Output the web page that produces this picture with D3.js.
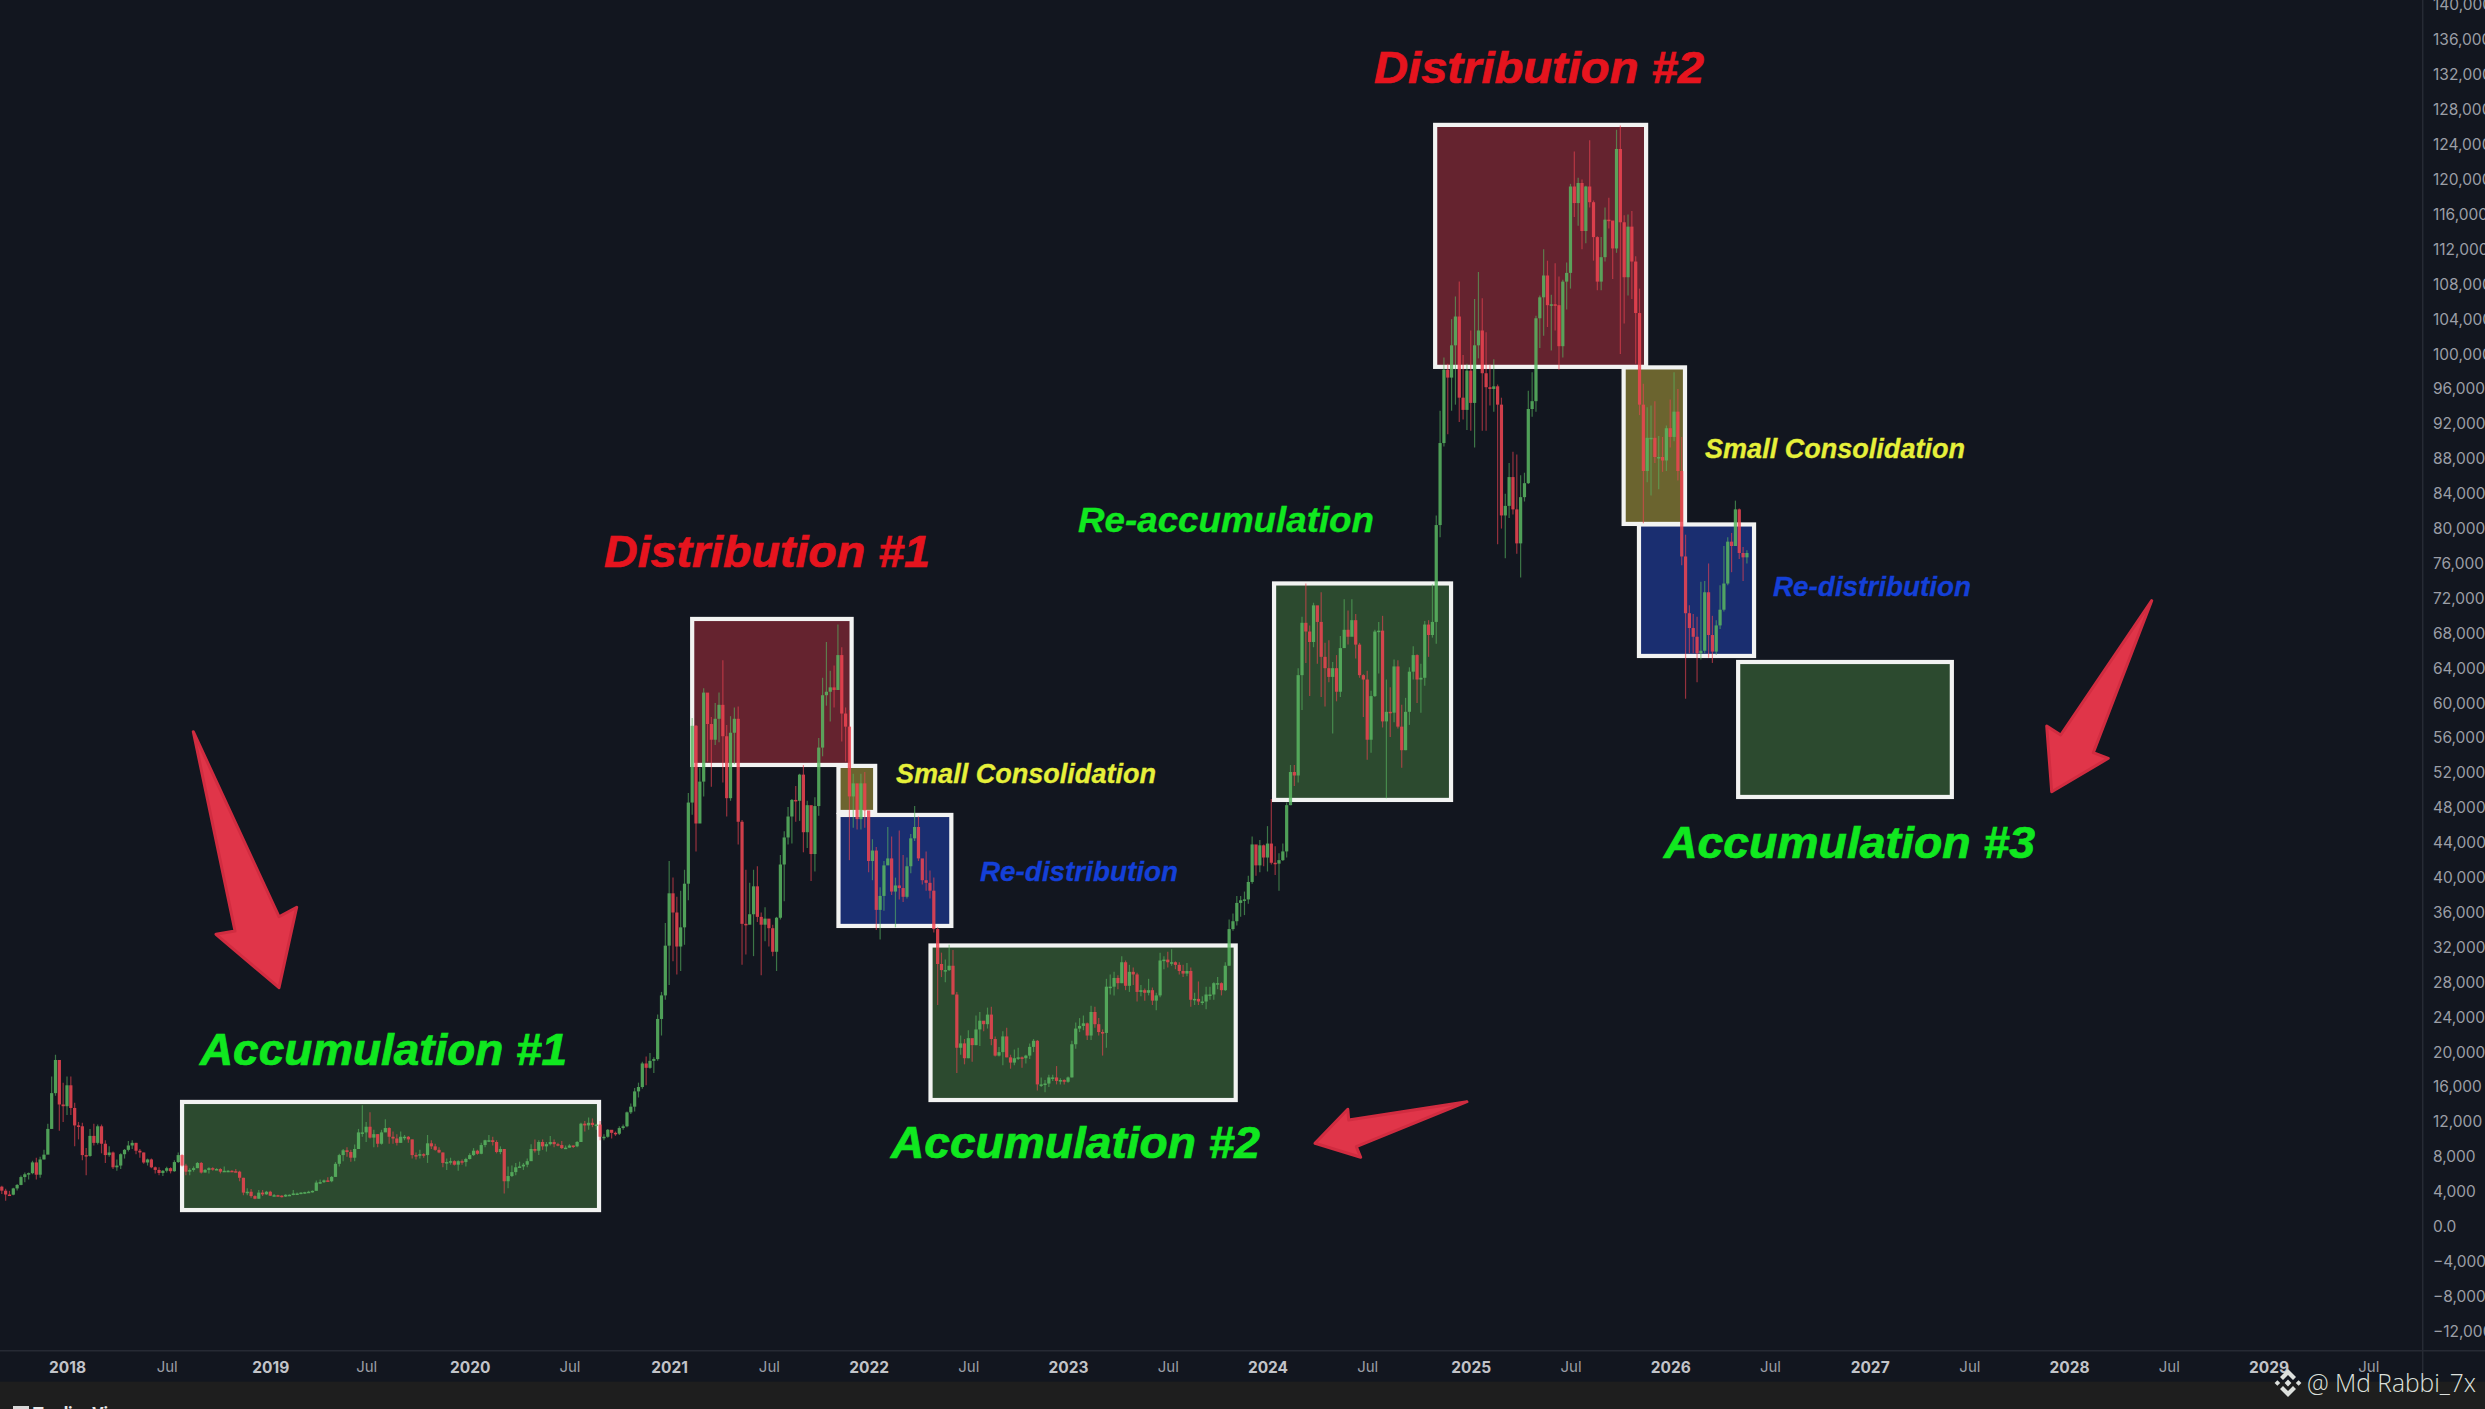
<!DOCTYPE html>
<html><head><meta charset="utf-8">
<style>html,body{margin:0;padding:0;background:#12161f;overflow:hidden}svg{display:block}</style>
<script src="https://cdnjs.cloudflare.com/ajax/libs/d3/7.8.5/d3.min.js"></script>
</head><body><svg id="c" width="2485" height="1409"></svg>
<script>
// Weekly BTC candles, in thousands of USD, first week starting Monday 2017-09-04
const firstWeek = "2017-09-04";
const firstOpen = 4.58;
const closes = [
// 2017
4.12,3.68,3.66,4.38,4.78,5.68,6.0,6.13,7.36,5.95,7.7,8.25,11.2,15.3,19.1,14.0,13.8,
// 2018
16.2,13.6,11.6,11.5,8.2,8.1,10.4,9.6,11.5,9.5,8.2,8.5,6.8,7.0,8.3,8.8,9.3,9.6,8.7,8.5,7.35,7.7,6.8,6.5,6.15,6.4,6.7,6.35,7.4,8.2,7.0,6.3,6.5,6.7,7.3,6.2,6.5,6.7,6.6,6.6,6.3,6.4,6.4,6.35,6.3,5.6,3.9,4.0,3.5,3.2,3.9,3.7,4.0,
// 2019
3.55,3.6,3.55,3.45,3.65,3.65,3.8,3.8,3.9,3.95,4.0,4.1,5.05,5.1,5.3,5.2,5.7,7.2,8.2,8.75,8.55,7.9,8.9,10.8,10.8,11.45,10.2,10.6,9.5,10.8,11.3,10.3,10.1,9.6,10.3,10.3,10.0,8.2,8.15,8.3,8.2,9.55,9.2,8.8,8.5,7.3,7.4,7.5,7.1,7.5,7.4,7.75,
// 2020
8.2,8.7,8.35,9.35,9.9,9.9,9.7,8.55,8.9,5.2,5.8,6.25,6.8,6.9,7.1,7.5,8.9,8.7,9.7,9.2,9.45,9.7,9.45,9.35,9.0,9.05,9.3,9.2,9.7,11.8,11.6,11.9,11.65,11.7,10.3,10.3,11.1,10.75,10.65,11.3,11.5,13.1,13.75,15.5,16.0,18.7,18.2,19.0,19.2,23.8,26.5,32.2,
// 2021
38.2,36.0,32.1,34.3,39.3,48.6,57.4,46.2,51.0,61.2,57.6,55.8,58.2,59.8,56.2,49.1,56.6,58.2,46.4,34.7,34.6,35.8,39.0,35.5,34.6,35.3,34.2,31.5,35.4,41.5,44.6,47.0,48.9,48.8,51.8,45.2,48.3,42.7,48.2,54.9,60.9,61.3,61.8,61.5,65.5,58.8,57.3,49.3,50.8,46.7,50.8,47.7,
// 2022
41.9,43.1,36.3,37.9,41.4,42.2,38.4,39.1,38.8,37.8,41.3,44.5,45.8,42.2,39.7,39.4,38.5,34.1,30.1,29.4,29.4,29.9,26.6,20.5,21.0,19.3,21.6,20.8,22.6,23.6,23.2,24.3,21.5,19.6,20.0,21.8,19.4,18.8,19.3,19.4,19.3,19.6,20.6,21.3,16.3,16.3,16.4,17.1,17.1,16.7,16.8,16.6,
// 2023
17.1,20.9,22.7,23.0,23.3,21.9,24.6,23.2,22.3,22.2,27.5,27.5,28.5,27.9,30.3,27.6,29.2,28.9,26.9,27.1,26.8,27.1,25.9,26.5,30.5,30.6,30.3,30.3,30.0,29.3,29.0,29.3,26.0,26.1,25.8,25.8,26.6,26.6,27.9,27.9,27.1,29.9,34.1,35.0,37.1,37.4,37.5,39.5,43.8,41.4,43.7,42.3,
// 2024
43.9,41.7,41.6,42.0,43.0,48.3,52.1,51.7,63.2,69.2,68.2,67.0,71.2,69.3,65.3,64.0,63.0,64.0,61.3,66.3,68.4,67.6,69.5,66.7,63.2,62.7,55.8,60.8,68.2,68.3,57.9,59.0,58.9,64.2,57.3,54.6,59.0,63.6,65.5,62.7,62.9,69.0,67.8,69.3,80.4,89.8,98.2,97.3,101.0,104.3,95.0,93.6,98.1,
// 2025
94.4,101.0,102.7,97.8,96.2,96.0,96.3,94.2,81.5,82.6,85.9,82.2,78.3,83.6,85.2,93.7,94.6,104.1,106.5,109.0,105.6,105.7,105.6,100.9,108.3,109.3,119.2,117.3,119.6,114.1,119.2,117.4,113.4,108.3,111.1,115.4,115.3,112.1,123.5,115.1,108.8,114.6,110.6,104.7,94.2,86.6,90.4,90.4,88.2,88.2,87.8,91.5,
// 2026
90.5,93.4,86.6,76.8,70.3,68.6,67.6,65.7,66.0,72.7,67.8,65.9,68.9,70.7,73.7,78.5,78.0,82.2,77.2,76.7,77.2
];
const highs = [
// 2017
4.7,4.35,4.1,4.45,4.9,5.85,6.2,6.2,7.55,7.9,8.0,8.8,11.8,17.2,19.7,19.0,16.5,
// 2018
17.2,17.2,14.2,12.0,11.9,9.0,11.2,11.8,11.7,11.7,9.9,9.2,8.6,7.7,8.4,8.9,9.8,9.9,9.6,8.9,8.5,7.8,7.8,6.9,6.8,6.5,6.85,6.8,7.6,8.5,8.3,7.2,6.7,6.9,7.4,7.4,6.6,6.8,6.8,6.7,6.7,6.9,6.5,6.45,6.6,6.4,5.6,4.4,4.3,3.6,4.2,4.2,4.1,
// 2019
4.1,3.75,3.65,3.6,3.7,3.7,4.2,3.9,3.95,4.0,4.1,4.15,5.3,5.4,5.4,5.65,5.8,7.4,8.35,8.9,9.1,8.8,9.4,11.2,13.9,12.0,13.1,11.1,10.6,11.1,12.3,11.4,10.9,10.6,10.9,10.5,10.4,10.0,8.5,8.8,8.4,10.5,9.9,9.5,9.1,8.5,7.8,7.9,7.6,7.6,7.7,7.9,
// 2020
8.4,9.0,8.8,9.6,9.95,10.5,10.3,9.9,9.2,8.2,6.9,7.0,7.3,7.45,7.3,7.8,9.45,10.0,9.9,10.0,9.7,10.4,10.0,9.6,9.8,9.3,9.45,9.3,9.8,11.9,12.1,12.5,12.4,11.8,12.1,10.6,11.2,11.0,10.9,11.5,11.7,13.2,14.1,15.9,16.5,18.9,19.5,19.9,19.4,24.3,26.9,34.8,
// 2021
41.9,40.0,37.8,38.5,40.9,49.7,58.3,57.5,52.6,61.7,61.0,58.4,60.0,61.2,64.9,57.5,58.5,59.5,59.6,46.6,40.9,39.4,40.9,41.3,36.0,36.6,35.1,34.6,35.5,42.6,45.3,48.1,49.0,50.5,51.9,52.9,48.8,48.0,49.2,56.0,62.9,67.0,63.7,64.3,69.0,66.4,59.5,59.2,51.9,50.0,51.9,52.1,
// 2022
47.5,44.4,43.5,38.9,41.9,45.8,44.7,40.0,45.4,42.6,42.3,45.0,48.2,47.0,41.5,43.0,40.8,40.0,34.3,31.4,30.6,32.3,31.7,26.9,21.9,21.5,22.5,21.0,24.2,24.6,23.5,25.1,25.2,21.8,20.6,22.4,22.8,19.7,20.3,20.5,19.5,19.7,21.0,21.5,21.4,17.1,16.8,17.4,17.4,18.4,17.0,16.9,
// 2023
17.2,21.3,23.4,23.9,24.2,23.4,25.3,25.2,23.9,22.6,28.4,28.9,29.2,28.8,31.0,30.5,30.0,29.7,29.1,27.7,27.3,28.4,27.4,26.8,31.4,31.0,31.5,31.8,30.4,30.3,30.0,30.2,29.7,26.8,28.1,26.4,27.5,27.5,28.0,28.6,28.0,30.3,35.2,35.9,37.9,37.9,38.4,40.2,44.7,43.5,44.3,43.8,
// 2024
45.9,49.0,43.6,42.8,43.9,48.6,52.9,52.9,64.0,69.9,73.7,68.9,71.5,70.3,72.7,66.9,67.2,64.7,65.5,67.7,71.9,70.6,71.9,70.2,66.9,63.3,63.7,61.4,68.4,69.3,70.0,62.7,61.8,65.0,64.9,59.8,60.6,64.1,66.5,65.6,64.5,69.4,69.5,73.6,81.5,93.5,99.6,98.9,104.0,106.6,108.3,99.9,98.9,
// 2025
102.7,106.3,109.4,106.4,102.5,98.8,99.4,96.5,95.0,84.0,87.5,88.8,88.5,86.1,86.4,95.8,97.9,104.4,106.7,112.0,110.7,106.8,110.4,108.9,108.5,110.5,119.5,123.2,120.2,120.0,119.3,124.5,117.6,113.5,113.4,116.8,117.9,113.9,125.7,126.2,115.9,116.0,116.4,111.2,107.5,96.6,93.9,94.1,94.6,90.6,90.5,91.8,
// 2026
94.8,97.9,96.0,90.5,79.3,71.2,70.2,69.9,73.9,74.0,76.0,70.0,69.5,73.5,78.0,79.0,79.5,83.2,82.3,77.9,77.5
];
const lows = [
// 2017
3.75,2.97,3.55,3.6,4.15,4.75,5.1,5.4,6.0,5.4,5.6,7.7,8.5,11.2,15.0,11.0,12.0,
// 2018
12.8,12.8,9.2,10.0,7.6,5.9,8.0,9.3,9.4,8.4,7.3,8.0,6.6,6.4,6.6,7.8,8.6,8.9,8.3,7.9,7.2,7.0,6.7,6.1,5.9,5.8,6.2,6.1,6.3,7.3,6.9,5.9,5.9,6.3,6.7,6.1,6.2,6.1,6.4,6.5,6.1,6.3,6.35,6.3,6.3,5.2,3.6,3.6,3.3,3.15,3.2,3.5,3.65,
// 2019
3.5,3.5,3.5,3.35,3.4,3.55,3.6,3.65,3.7,3.75,3.9,3.9,4.1,4.9,5.0,5.15,5.1,5.7,6.9,7.5,8.0,7.45,7.5,8.9,10.3,9.7,10.1,9.1,9.1,9.4,10.9,9.5,9.5,9.3,9.6,9.9,9.6,7.8,7.7,7.8,7.9,7.3,8.9,8.7,8.4,6.8,6.5,7.1,7.0,6.4,7.1,6.9,
// 2020
7.7,8.1,8.25,8.3,9.1,9.7,9.3,8.4,8.3,3.8,4.4,5.7,5.9,6.8,6.5,6.8,7.6,8.5,8.2,8.8,8.6,9.3,9.1,9.2,8.9,8.9,9.05,9.0,9.1,9.9,10.9,11.1,11.4,11.1,9.9,9.9,10.2,10.1,10.4,10.5,11.1,11.4,12.9,13.2,14.8,15.8,16.2,18.1,17.6,19.0,21.9,26.0,
// 2021
27.7,30.4,28.9,29.3,32.3,37.4,47.2,43.0,46.3,49.3,53.3,50.4,55.2,55.5,50.9,47.0,48.8,53.0,43.8,30.0,31.2,34.8,31.0,34.9,28.8,32.7,32.1,31.0,29.3,35.2,37.3,43.8,43.9,46.4,46.5,42.9,43.4,39.6,40.7,47.1,53.9,59.7,57.9,59.5,62.3,55.6,53.3,42.0,45.7,45.5,45.5,45.7,
// 2022
40.6,39.7,34.0,32.9,36.2,41.7,38.0,34.3,37.5,37.2,37.6,40.5,44.2,41.9,39.2,38.5,37.6,33.7,25.4,28.6,28.0,29.3,26.6,17.6,19.7,18.6,19.3,18.9,20.8,20.7,22.4,22.7,20.8,19.5,19.5,18.5,19.4,18.1,18.5,19.1,18.2,18.7,19.2,20.0,15.6,16.0,15.4,16.0,16.7,16.3,16.3,16.3,
// 2023
16.5,17.1,20.4,22.3,22.5,21.4,21.4,22.8,21.9,19.6,20.5,26.6,26.5,27.2,27.9,27.1,26.9,27.7,25.8,26.4,25.9,26.5,25.4,24.8,26.3,29.5,29.7,29.9,29.5,28.9,28.6,28.7,25.2,25.4,25.4,25.4,24.9,26.0,26.0,27.2,26.5,27.0,29.9,33.9,34.5,35.5,35.7,37.0,39.3,40.2,40.6,41.3,
// 2024
40.7,41.5,40.3,38.5,41.9,42.3,48.3,50.5,50.9,59.2,64.6,60.8,66.4,64.5,60.7,59.6,62.4,56.5,60.2,60.7,66.6,66.7,68.5,65.1,62.9,58.4,53.5,54.3,60.7,63.4,57.2,49.1,56.1,57.8,57.1,52.6,54.6,57.5,62.7,60.0,58.9,62.0,65.3,67.5,66.8,79.0,89.4,90.8,93.5,94.2,92.2,92.5,91.3,
// 2025
91.2,89.3,99.5,91.2,91.2,94.1,93.4,78.2,80.0,76.6,81.2,81.6,77.1,74.4,83.1,85.1,92.8,93.4,100.7,102.1,103.1,100.4,102.7,98.2,99.6,105.1,107.5,115.7,114.7,112.0,112.7,116.8,110.7,107.3,107.3,110.6,114.4,108.6,111.6,100.0,103.5,106.7,106.3,98.9,93.0,80.6,85.3,83.8,87.5,84.5,86.5,86.6,
// 2026
89.3,90.0,85.5,75.8,60.5,65.7,65.7,62.4,65.0,65.7,65.2,64.6,65.5,68.5,70.5,73.5,75.0,78.0,76.5,74.0,76.0
];

// Price axis ticks (thousands of USD) and time axis ticks
const priceTicks = [140,136,132,128,124,120,116,112,108,104,100,96,92,88,84,80,76,72,68,64,60,56,52,48,44,40,36,32,28,24,20,16,12,8,4,0,-4,-8,-12];
const yearLabels = [2018,2019,2020,2021,2022,2023,2024,2025,2026,2027,2028,2029];

// Annotated zones: dates and price levels (thousands of USD)
const zoneKinds  = ["acc","dist","small","redist","acc","acc","dist","small","redist","acc"];
const zoneStarts = ["2018-07-30","2021-02-15","2021-11-09","2021-11-09","2022-04-26","2024-01-13","2024-11-02","2025-10-12","2025-11-09","2026-05-09"];
const zoneEnds   = ["2020-08-29","2021-12-03","2022-01-15","2022-06-03","2023-11-04","2024-12-01","2025-11-22","2026-02-01","2026-06-07","2027-06-03"];
const zoneTops   = [14.29,69.64,52.8,47.18,32.22,73.71,126.26,98.47,80.47,64.71];
const zoneBottoms= [1.9,52.91,47.52,34.46,14.51,48.9,98.53,80.53,65.4,49.24];

const labelTexts = ["Accumulation #1","Accumulation #2","Accumulation #3","Distribution #1","Distribution #2","Re-accumulation","Small Consolidation","Small Consolidation","Re-distribution","Re-distribution"];
const labelX     = [200,891,1664,604,1374,1078,896,1705,980,1773];
const labelY     = [1065,1158,858,567,83,532,783,458,881,596];
const labelSize  = [45,45,45,45,45,35,28.5,28.5,28.5,28.5];
const labelWidth = [367,369,371,326,330,296,260,260,198,198];
const labelColor = ["#10e81f","#10e81f","#10e81f","#e6141e","#e6141e","#10e81f","#e6f03a","#e6f03a","#1440d8","#1440d8"];

const arrowShapes = [
 [[193.3,731.7],[279,916.7],[296.7,907.3],[279,987.7],[216,934.3],[235,931]],
 [[1467,1101.7],[1348.7,1120],[1347.8,1109.3],[1315,1143.3],[1360.7,1157.3],[1356.3,1146.7]],
 [[2151.7,600.7],[2093.3,752.7],[2108.3,758.3],[2051.7,791.7],[2046.7,726],[2060.7,735]]
];

const zoneFill = {acc:"#2c4a2f", dist:"#65232f", small:"#6b642f", redist:"#1a2e70"};
const bg="#12161f";

const svg=d3.select("#c");
const parse=d3.utcParse("%Y-%m-%d");
const x=d3.scaleUtc().domain([parse("2018-01-01"),parse("2028-01-01")]).range([67,2068]);
const y=d3.scaleLinear().domain([-12,140]).range([1331.35,5]);
const weekPx=x(parse("2018-01-08"))-x(parse("2018-01-01"));
const start=parse(firstWeek);
if(closes.length!==highs.length||closes.length!==lows.length) throw new Error("length mismatch "+closes.length+" "+highs.length+" "+lows.length);
const candles=closes.map((c,i)=>({
  d:d3.utcDay.offset(start,7*i),
  o:i?closes[i-1]:firstOpen,c,h:highs[i],l:lows[i]
}));
const zones=zoneKinds.map((k,i)=>({k,s:parse(zoneStarts[i]),e:parse(zoneEnds[i]),t:zoneTops[i],b:zoneBottoms[i]}));

svg.append("rect").attr("width",2485).attr("height",1409).attr("fill",bg);

// zones with white outlines sit under the candles
svg.append("g").selectAll("rect").data(zones).join("rect")
 .attr("x",d=>x(d.s)).attr("width",d=>x(d.e)-x(d.s))
 .attr("y",d=>y(d.t)).attr("height",d=>y(d.b)-y(d.t))
 .attr("fill",d=>zoneFill[d.k]).attr("stroke","#f2f3f2").attr("stroke-width",4.2);

// candles
const up="#5ab862",down="#f04552";
const cg=svg.append("g").attr("opacity",0.85);
cg.selectAll("line").data(candles).join("line")
 .attr("x1",d=>x(d.d)).attr("x2",d=>x(d.d)).attr("y1",d=>y(d.h)).attr("y2",d=>y(d.l))
 .attr("stroke",d=>d.c>=d.o?up:down).attr("stroke-width",1.2).attr("stroke-opacity",0.7);
const bw=weekPx*0.84;
cg.selectAll("rect").data(candles).join("rect")
 .attr("x",d=>x(d.d)-bw/2).attr("width",bw)
 .attr("y",d=>y(Math.max(d.o,d.c))).attr("height",d=>Math.max(1.5,Math.abs(y(d.o)-y(d.c))))
 .attr("fill",d=>d.c>=d.o?up:down);

// arrows
svg.append("g").selectAll("polygon").data(arrowShapes).join("polygon")
 .attr("points",d=>d.join(" ")).attr("fill","#e03549").attr("stroke","#d12c40")
 .attr("stroke-width",3).attr("stroke-linejoin","round");

// labels
svg.append("g").selectAll("text").data(labelTexts).join("text")
 .attr("x",(d,i)=>labelX[i]).attr("y",(d,i)=>labelY[i]).text(d=>d)
 .attr("font-family","'Liberation Sans',Arial,sans-serif").attr("font-weight",700).attr("font-style","italic")
 .attr("font-size",(d,i)=>labelSize[i]).attr("fill",(d,i)=>labelColor[i])
 .attr("stroke",(d,i)=>labelColor[i]).attr("stroke-width",(d,i)=>labelSize[i]>40?0.7:0.3)
 .attr("textLength",(d,i)=>labelWidth[i]).attr("lengthAdjust","spacingAndGlyphs");

// axes
svg.append("line").attr("x1",0).attr("x2",2485).attr("y1",1350.7).attr("y2",1350.7).attr("stroke","#262a34").attr("stroke-width",1.5);
svg.append("line").attr("x1",2422.7).attr("x2",2422.7).attr("y1",0).attr("y2",1382).attr("stroke","#262a34").attr("stroke-width",1.5);

const yAxis=d3.axisRight(y).tickValues(priceTicks).tickSize(0).tickPadding(0)
 .tickFormat(v=>v===0?"0.0":d3.format(",")(v*1000));
const yg=svg.append("g").attr("transform","translate(2433,0)").call(yAxis);
yg.select(".domain").remove();
yg.selectAll("text").attr("fill","#9b9ea6").attr("font-family","Inter,Roboto,sans-serif").attr("font-size",15.5);

// labels sit on the first weekly bar of the period
const yearDates=yearLabels.map(v=>d3.utcMonday.ceil(new Date(Date.UTC(v,0,1))));
const julDates=yearLabels.map(v=>d3.utcMonday.ceil(new Date(Date.UTC(v,6,1))));
const xYear=d3.axisBottom(x).tickValues(yearDates).tickSize(0).tickFormat(d=>d3.utcFormat("%Y")(d));
const xJul=d3.axisBottom(x).tickValues(julDates).tickSize(0).tickFormat(()=>"Jul");
const xg1=svg.append("g").attr("transform","translate(0,1358.5)").call(xYear);
xg1.select(".domain").remove();
xg1.selectAll("text").attr("fill","#c2c4c9").attr("font-weight",700).attr("font-family","Inter,Roboto,sans-serif").attr("font-size",15.5);
const xg2=svg.append("g").attr("transform","translate(0,1358.5)").call(xJul);
xg2.select(".domain").remove();
xg2.selectAll("text").attr("fill","#9b9ea6").attr("font-family","Inter,Roboto,sans-serif").attr("font-size",15);

// footer band and watermark
svg.append("rect").attr("x",0).attr("y",1381.7).attr("width",2485).attr("height",28).attr("fill","#1e1e1e");
svg.append("rect").attr("x",13).attr("y",1406).attr("width",16).attr("height",6).attr("fill","#d8d8d8");
svg.append("text").attr("x",33).attr("y",1420).text("TradingView").attr("fill","#e8e8e8").attr("font-family","Roboto,sans-serif").attr("font-weight",700).attr("font-size",19)
 .attr("textLength",97).attr("lengthAdjust","spacingAndGlyphs");
const wm="#dde0dd";
const logo=svg.append("g").attr("transform","translate(2288,1383)").attr("fill",wm);
logo.append("path").attr("d","M0,-14 L8,-6 L5,-3 L0,-8 L-5,-3 L-8,-6Z");
logo.append("path").attr("d","M0,14 L8,6 L5,3 L0,8 L-5,3 L-8,6Z");
logo.append("path").attr("d","M0,-3.4 L3.4,0 L0,3.4 L-3.4,0Z");
logo.append("path").attr("d","M-10.6,-2.8 L-7.8,0 L-10.6,2.8 L-13.4,0Z");
logo.append("path").attr("d","M10.6,-2.8 L13.4,0 L10.6,2.8 L7.8,0Z");
svg.append("text").attr("x",2307).attr("y",1392).text("@ Md Rabbi_7x").attr("fill",wm)
 .attr("font-family","'Open Sans','Noto Sans',sans-serif").attr("font-weight",300).attr("font-size",25)
 .attr("textLength",169).attr("lengthAdjust","spacingAndGlyphs");
</script></body></html>
